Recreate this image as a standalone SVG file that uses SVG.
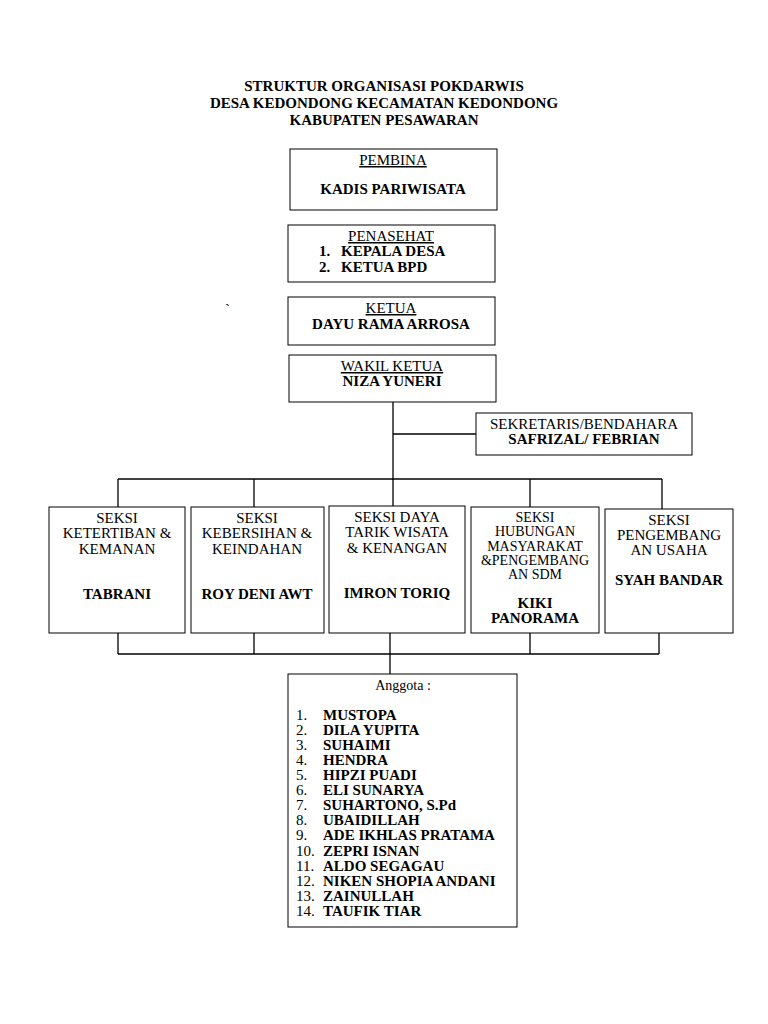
<svg xmlns="http://www.w3.org/2000/svg" width="768" height="1024" viewBox="0 0 768 1024">
<style>
text{font-family:"Liberation Serif","Times New Roman",serif;font-size:15px;fill:#000}
.b{font-weight:bold}
.c{text-anchor:middle}
.u{text-decoration:underline}
.s{font-size:14px}
rect{fill:#fff;stroke:#000;stroke-width:1}
line{stroke:#000;stroke-width:1.3}
</style>
<rect x="0" y="0" width="768" height="1024" style="stroke:none"/>
<g id="title">
<text x="384" y="91" class="c b">STRUKTUR ORGANISASI POKDARWIS</text>
<text x="384" y="108" class="c b">DESA KEDONDONG KECAMATAN KEDONDONG</text>
<text x="384" y="125" class="c b">KABUPATEN PESAWARAN</text>
</g>
<g id="connectors">
<line x1="393" y1="402" x2="393" y2="480"/>
<line x1="393" y1="434" x2="476" y2="434"/>
<line x1="118" y1="479" x2="662" y2="479"/>
<line x1="118" y1="479" x2="118" y2="507"/>
<line x1="254" y1="479" x2="254" y2="507"/>
<line x1="393" y1="479" x2="393" y2="506"/>
<line x1="530" y1="479" x2="530" y2="507"/>
<line x1="662" y1="479" x2="662" y2="509"/>
<line x1="118" y1="633" x2="118" y2="654"/>
<line x1="254" y1="633" x2="254" y2="654"/>
<line x1="390" y1="633" x2="390" y2="674"/>
<line x1="530" y1="633" x2="530" y2="654"/>
<line x1="659" y1="633" x2="659" y2="654"/>
<line x1="118" y1="654" x2="659" y2="654"/>
</g>
<g id="pembina">
<rect x="290" y="149" width="207" height="61"/>
<text x="393" y="165" class="c u">PEMBINA</text>
<text x="393" y="194" class="c b">KADIS PARIWISATA</text>
</g>
<g id="penasehat">
<rect x="288" y="225" width="207" height="57"/>
<text x="391" y="241" class="c u">PENASEHAT</text>
<text x="319" y="256" class="b">1.</text><text x="341" y="256" class="b">KEPALA DESA</text>
<text x="319" y="272" class="b">2.</text><text x="341" y="272" class="b">KETUA BPD</text>
</g>
<text x="225" y="314">`</text>
<g id="ketua">
<rect x="288" y="297" width="207" height="48"/>
<text x="391" y="313" class="c u">KETUA</text>
<text x="391" y="329" class="c b">DAYU RAMA ARROSA</text>
</g>
<g id="wakil">
<rect x="289" y="355" width="207" height="47"/>
<text x="392" y="371" class="c u">WAKIL KETUA</text>
<text x="392" y="386" class="c b">NIZA YUNERI</text>
</g>
<g id="sekretaris">
<rect x="476" y="413" width="216" height="42"/>
<text x="584" y="429" class="c">SEKRETARIS/BENDAHARA</text>
<text x="584" y="444" class="c b">SAFRIZAL/ FEBRIAN</text>
</g>
<g id="seksi1">
<rect x="49" y="507" width="136" height="126"/>
<text x="117" y="523" class="c">SEKSI</text>
<text x="117" y="538" class="c">KETERTIBAN &amp;</text>
<text x="117" y="554" class="c">KEMANAN</text>
<text x="117" y="599" class="c b">TABRANI</text>
</g>
<g id="seksi2">
<rect x="191" y="507" width="133" height="126"/>
<text x="257" y="523" class="c">SEKSI</text>
<text x="257" y="538" class="c">KEBERSIHAN &amp;</text>
<text x="257" y="554" class="c">KEINDAHAN</text>
<text x="257" y="599" class="c b">ROY DENI AWT</text>
</g>
<g id="seksi3">
<rect x="329" y="506" width="136" height="127"/>
<text x="397" y="522" class="c">SEKSI DAYA</text>
<text x="397" y="537" class="c">TARIK WISATA</text>
<text x="397" y="553" class="c">&amp; KENANGAN</text>
<text x="397" y="598" class="c b">IMRON TORIQ</text>
</g>
<g id="seksi4">
<rect x="471" y="507" width="128" height="126"/>
<text x="535" y="522" class="c s">SEKSI</text>
<text x="535" y="536" class="c s">HUBUNGAN</text>
<text x="535" y="551" class="c s">MASYARAKAT</text>
<text x="535" y="565" class="c s">&amp;PENGEMBANG</text>
<text x="535" y="579" class="c s">AN SDM</text>
<text x="535" y="608" class="c b">KIKI</text>
<text x="535" y="623" class="c b">PANORAMA</text>
</g>
<g id="seksi5">
<rect x="605" y="509" width="128" height="124"/>
<text x="669" y="525" class="c">SEKSI</text>
<text x="669" y="540" class="c">PENGEMBANG</text>
<text x="669" y="555" class="c">AN USAHA</text>
<text x="669" y="585" class="c b">SYAH BANDAR</text>
</g>
<g id="anggota">
<rect x="288" y="674" width="229" height="253"/>
<text x="403" y="690" class="c s">Anggota :</text>
<g>
<text x="296" y="720">1.</text><text x="323" y="720" class="b">MUSTOPA</text>
<text x="296" y="735">2.</text><text x="323" y="735" class="b">DILA YUPITA</text>
<text x="296" y="750">3.</text><text x="323" y="750" class="b">SUHAIMI</text>
<text x="296" y="765">4.</text><text x="323" y="765" class="b">HENDRA</text>
<text x="296" y="780">5.</text><text x="323" y="780" class="b">HIPZI PUADI</text>
<text x="296" y="795">6.</text><text x="323" y="795" class="b">ELI SUNARYA</text>
<text x="296" y="810">7.</text><text x="323" y="810" class="b">SUHARTONO, S.Pd</text>
<text x="296" y="825">8.</text><text x="323" y="825" class="b">UBAIDILLAH</text>
<text x="296" y="840">9.</text><text x="323" y="840" class="b">ADE IKHLAS PRATAMA</text>
<text x="296" y="856">10.</text><text x="323" y="856" class="b">ZEPRI ISNAN</text>
<text x="296" y="871">11.</text><text x="323" y="871" class="b">ALDO SEGAGAU</text>
<text x="296" y="886">12.</text><text x="323" y="886" class="b">NIKEN SHOPIA ANDANI</text>
<text x="296" y="901">13.</text><text x="323" y="901" class="b">ZAINULLAH</text>
<text x="296" y="916">14.</text><text x="323" y="916" class="b">TAUFIK TIAR</text>
</g>
</g>
</svg>
